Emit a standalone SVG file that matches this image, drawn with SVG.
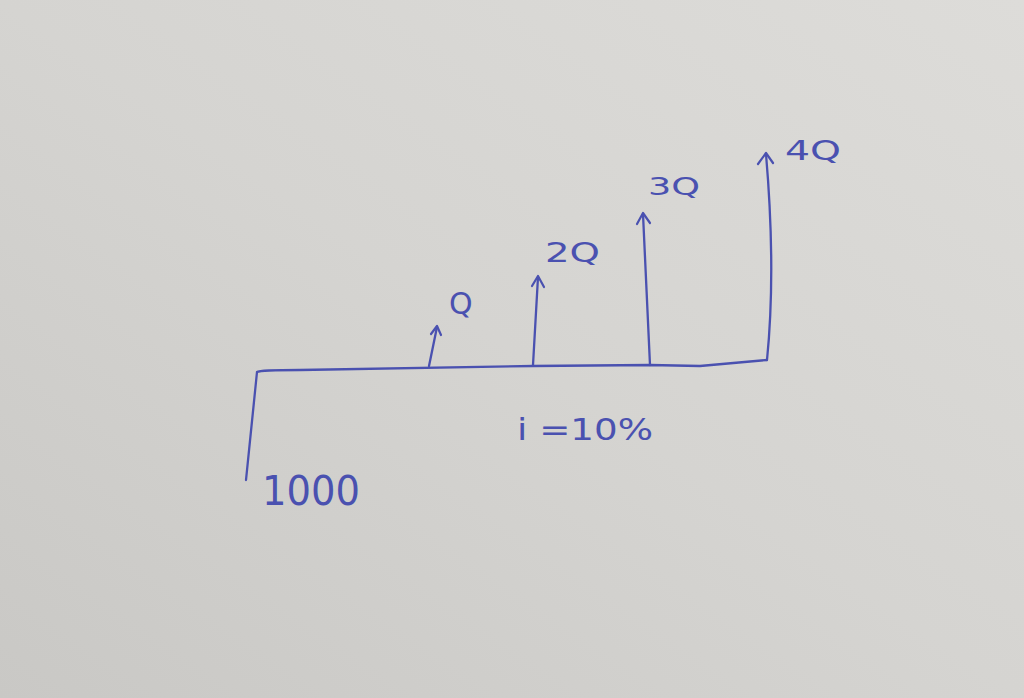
<svg xmlns="http://www.w3.org/2000/svg" width="1024" height="698" viewBox="0 0 1024 698">
<defs>
<linearGradient id="bg" x1="1" y1="0" x2="0" y2="1">
<stop offset="0" stop-color="#dddcd9"/>
<stop offset="0.5" stop-color="#d5d4d1"/>
<stop offset="1" stop-color="#c9c8c5"/>
</linearGradient>
<style>
.ink{fill:none;stroke:#4a51b0;stroke-width:2.3;stroke-linecap:round;stroke-linejoin:round}
.head{fill:none;stroke:#4a51b0;stroke-width:2.2;stroke-linecap:round;stroke-linejoin:round}
.lbl{fill:#4a51b0;font-family:"DejaVu Sans","Liberation Sans",sans-serif;font-weight:normal}
</style>
</defs>
<rect width="1024" height="698" fill="url(#bg)"/>
<g id="connectors">
<path class="ink" d="M246,480 L257,372 Q260,370 300,370 L533,366 L650,365 L700,366 L767,360"/>
<path class="ink" d="M429,366 L437,327"/>
<path class="head" d="M431,334 L437,326 L441,335"/>
<path class="ink" d="M533,365 L538,277"/>
<path class="head" d="M532,286 L538,276 L544,287"/>
<path class="ink" d="M650,365 Q647,300 643,214"/>
<path class="head" d="M637,224 L643,213 L650,223"/>
<path class="ink" d="M767,360 Q776,270 766,154"/>
<path class="head" d="M758,164 L766,153 L773,163"/>
</g>
<g id="label-1000"><text class="lbl" x="262" y="505" font-size="40" textLength="98" lengthAdjust="spacingAndGlyphs">1000</text></g>
<g id="label-Q"><text class="lbl" x="449" y="314" font-size="30">Q</text></g>
<g id="label-2Q"><text class="lbl" x="545" y="262" font-size="26" textLength="55" lengthAdjust="spacingAndGlyphs">2Q</text></g>
<g id="label-3Q"><text class="lbl" x="648" y="195" font-size="25" textLength="52" lengthAdjust="spacingAndGlyphs">3Q</text></g>
<g id="label-4Q"><text class="lbl" x="785" y="160" font-size="27" textLength="56" lengthAdjust="spacingAndGlyphs">4Q</text></g>
<g id="label-rate"><text class="lbl" x="517" y="440" font-size="30" textLength="136" lengthAdjust="spacingAndGlyphs">i =10%</text></g>
</svg>
